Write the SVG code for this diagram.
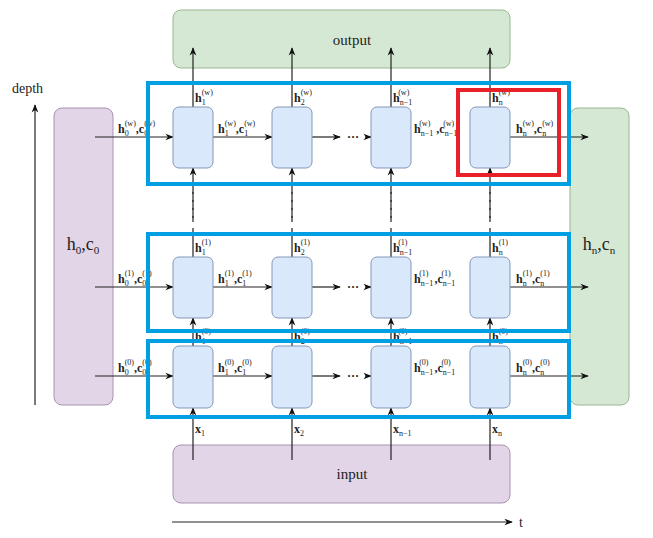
<svg xmlns="http://www.w3.org/2000/svg" width="653" height="538" viewBox="0 0 653 538">
<style>
text{font-family:"Liberation Serif",serif;fill:#222}
.l{font-size:12px;font-weight:bold}
.s{font-size:8px;font-weight:normal}
.cell{fill:#dae8fc;stroke:#8497b8;stroke-width:1}
.ln{stroke:#222;stroke-width:1.2;fill:none}
.blue{fill:none;stroke:#009ee3;stroke-width:4}
</style>
<defs><marker id="a" viewBox="0 0 10 10" refX="9" refY="5" markerWidth="7" markerHeight="7" orient="auto"><path d="M0,1L10,5L0,9L3,5z" fill="#111"/></marker></defs>
<g id="output"><rect x="173" y="10" width="337" height="58" rx="8" fill="#d5e8d4" stroke="#9ab893"/><text x="352" y="45" text-anchor="middle" font-size="15">output</text></g>
<g id="input"><rect x="173" y="445" width="337" height="58" rx="8" fill="#e1d5e7" stroke="#a894b0"/><text x="352" y="479" text-anchor="middle" font-size="15">input</text></g>
<g id="h0c0"><rect x="54" y="108" width="59" height="297" rx="8" fill="#e1d5e7" stroke="#a894b0"/><text x="83" y="250" text-anchor="middle" font-size="18">h<tspan font-size="11" dy="4">0</tspan><tspan dy="-4">,c</tspan><tspan font-size="11" dy="4">0</tspan></text></g>
<g id="hncn"><rect x="570" y="108" width="59" height="297" rx="8" fill="#d5e8d4" stroke="#9ab893"/><text x="599" y="250" text-anchor="middle" font-size="18">h<tspan font-size="11" dy="4">n</tspan><tspan dy="-4">,c</tspan><tspan font-size="11" dy="4">n</tspan></text></g>
<g id="connectors">
<g class="ln" marker-end="url(#a)">
<path d="M193 107V48"/><path d="M292 107V48"/><path d="M391 107V48"/><path d="M490 107V48"/>
<path d="M193 222V168"/><path d="M292 222V168"/><path d="M391 222V168"/><path d="M490 222V168"/>
<path d="M193 346V318"/><path d="M292 346V318"/><path d="M391 346V318"/><path d="M490 346V318"/>
<path d="M193 460V408"/><path d="M292 460V408"/><path d="M391 460V408"/><path d="M490 460V408"/>
<path d="M95 137H173"/><path d="M213 137H272"/><path d="M312 137H340"/><path d="M372 137H371"/><path d="M510 137H588"/>
<path d="M95 287H173"/><path d="M213 287H272"/><path d="M312 287H340"/><path d="M372 287H371"/><path d="M510 287H588"/>
<path d="M95 376H173"/><path d="M213 376H272"/><path d="M312 376H340"/><path d="M372 376H371"/><path d="M510 376H588"/>
<path d="M35 405V105"/><path d="M172 522H512"/>
<path d="M365 137H371"/><path d="M365 287H371"/><path d="M365 376H371"/>
</g>
<g class="ln" stroke-dasharray="2 6"><path d="M193 192V218M292 192V218M391 192V218M490 192V218"/></g>
<g class="ln"><path d="M193 257V228M292 257V228M391 257V228M490 257V228"/></g>
</g>
<g id="cells">
<rect class="cell" x="173" y="107" width="40" height="61" rx="6"/><rect class="cell" x="272" y="107" width="40" height="61" rx="6"/><rect class="cell" x="371" y="107" width="40" height="61" rx="6"/><rect class="cell" x="470" y="107" width="40" height="61" rx="6"/>
<rect class="cell" x="173" y="257" width="40" height="61" rx="6"/><rect class="cell" x="272" y="257" width="40" height="61" rx="6"/><rect class="cell" x="371" y="257" width="40" height="61" rx="6"/><rect class="cell" x="470" y="257" width="40" height="61" rx="6"/>
<rect class="cell" x="173" y="346" width="40" height="62" rx="6"/><rect class="cell" x="272" y="346" width="40" height="62" rx="6"/><rect class="cell" x="371" y="346" width="40" height="62" rx="6"/><rect class="cell" x="470" y="346" width="40" height="62" rx="6"/>
</g>
<g id="labels" class="l">
<text x="195" y="102">h<tspan class="s" dy="3">1</tspan><tspan class="s" dx="-4" dy="-10">(w)</tspan></text>
<text x="294" y="102">h<tspan class="s" dy="3">2</tspan><tspan class="s" dx="-4" dy="-10">(w)</tspan></text>
<text x="393" y="102">h<tspan class="s" dy="3">n−1</tspan><tspan class="s" dx="-14" dy="-10">(w)</tspan></text>
<text x="492" y="102">h<tspan class="s" dy="3">n</tspan><tspan class="s" dx="-4" dy="-10">(w)</tspan></text>
<text x="118" y="133">h<tspan class="s" dy="3">0</tspan><tspan class="s" dx="-4" dy="-10">(w)</tspan><tspan dy="7">,c</tspan><tspan class="s" dy="3">0</tspan><tspan class="s" dx="-4" dy="-10">(w)</tspan></text>
<text x="218" y="133">h<tspan class="s" dy="3">1</tspan><tspan class="s" dx="-4" dy="-10">(w)</tspan><tspan dy="7">,c</tspan><tspan class="s" dy="3">1</tspan><tspan class="s" dx="-4" dy="-10">(w)</tspan></text>
<text x="414" y="133">h<tspan class="s" dy="3">n−1</tspan><tspan class="s" dx="-14" dy="-10">(w)</tspan><tspan dy="7" dx="6">,c</tspan><tspan class="s" dy="3">n−1</tspan><tspan class="s" dx="-14" dy="-10">(w)</tspan></text>
<text x="516" y="133">h<tspan class="s" dy="3">n</tspan><tspan class="s" dx="-4" dy="-10">(w)</tspan><tspan dy="7">,c</tspan><tspan class="s" dy="3">n</tspan><tspan class="s" dx="-4" dy="-10">(w)</tspan></text>
<text x="195" y="252">h<tspan class="s" dy="3">1</tspan><tspan class="s" dx="-4" dy="-10">(1)</tspan></text>
<text x="294" y="252">h<tspan class="s" dy="3">2</tspan><tspan class="s" dx="-4" dy="-10">(1)</tspan></text>
<text x="393" y="252">h<tspan class="s" dy="3">n−1</tspan><tspan class="s" dx="-14" dy="-10">(1)</tspan></text>
<text x="492" y="252">h<tspan class="s" dy="3">n</tspan><tspan class="s" dx="-4" dy="-10">(1)</tspan></text>
<text x="118" y="283">h<tspan class="s" dy="3">0</tspan><tspan class="s" dx="-4" dy="-10">(1)</tspan><tspan dy="7">,c</tspan><tspan class="s" dy="3">0</tspan><tspan class="s" dx="-4" dy="-10">(1)</tspan></text>
<text x="218" y="283">h<tspan class="s" dy="3">1</tspan><tspan class="s" dx="-4" dy="-10">(1)</tspan><tspan dy="7">,c</tspan><tspan class="s" dy="3">1</tspan><tspan class="s" dx="-4" dy="-10">(1)</tspan></text>
<text x="414" y="283">h<tspan class="s" dy="3">n−1</tspan><tspan class="s" dx="-14" dy="-10">(1)</tspan><tspan dy="7" dx="6">,c</tspan><tspan class="s" dy="3">n−1</tspan><tspan class="s" dx="-14" dy="-10">(1)</tspan></text>
<text x="516" y="283">h<tspan class="s" dy="3">n</tspan><tspan class="s" dx="-4" dy="-10">(1)</tspan><tspan dy="7">,c</tspan><tspan class="s" dy="3">n</tspan><tspan class="s" dx="-4" dy="-10">(1)</tspan></text>
<text x="195" y="341">h<tspan class="s" dy="3">1</tspan><tspan class="s" dx="-4" dy="-10">(0)</tspan></text>
<text x="294" y="341">h<tspan class="s" dy="3">2</tspan><tspan class="s" dx="-4" dy="-10">(0)</tspan></text>
<text x="393" y="341">h<tspan class="s" dy="3">n−1</tspan><tspan class="s" dx="-14" dy="-10">(0)</tspan></text>
<text x="492" y="341">h<tspan class="s" dy="3">n</tspan><tspan class="s" dx="-4" dy="-10">(0)</tspan></text>
<text x="118" y="372">h<tspan class="s" dy="3">0</tspan><tspan class="s" dx="-4" dy="-10">(0)</tspan><tspan dy="7">,c</tspan><tspan class="s" dy="3">0</tspan><tspan class="s" dx="-4" dy="-10">(0)</tspan></text>
<text x="218" y="372">h<tspan class="s" dy="3">1</tspan><tspan class="s" dx="-4" dy="-10">(0)</tspan><tspan dy="7">,c</tspan><tspan class="s" dy="3">1</tspan><tspan class="s" dx="-4" dy="-10">(0)</tspan></text>
<text x="414" y="372">h<tspan class="s" dy="3">n−1</tspan><tspan class="s" dx="-14" dy="-10">(0)</tspan><tspan dy="7" dx="6">,c</tspan><tspan class="s" dy="3">n−1</tspan><tspan class="s" dx="-14" dy="-10">(0)</tspan></text>
<text x="516" y="372">h<tspan class="s" dy="3">n</tspan><tspan class="s" dx="-4" dy="-10">(0)</tspan><tspan dy="7">,c</tspan><tspan class="s" dy="3">n</tspan><tspan class="s" dx="-4" dy="-10">(0)</tspan></text>
<text x="195" y="433">x<tspan class="s" dy="3">1</tspan></text>
<text x="294" y="433">x<tspan class="s" dy="3">2</tspan></text>
<text x="393" y="433">x<tspan class="s" dy="3">n−1</tspan></text>
<text x="492" y="433">x<tspan class="s" dy="3">n</tspan></text>
<text x="353" y="141" text-anchor="middle">···</text>
<text x="353" y="291" text-anchor="middle">···</text>
<text x="353" y="380" text-anchor="middle">···</text>
<text x="12" y="93" font-size="14" font-weight="normal">depth</text>
<text x="519" y="527" font-size="14" font-weight="normal">t</text>
</g>
<g id="frames">
<rect class="blue" x="148" y="83" width="421" height="101"/>
<rect class="blue" x="148" y="234" width="421" height="97"/>
<rect class="blue" x="148" y="341" width="421" height="76"/>
<rect x="458" y="90" width="101" height="85" fill="none" stroke="#e8202a" stroke-width="4"/>
</g>
</svg>
